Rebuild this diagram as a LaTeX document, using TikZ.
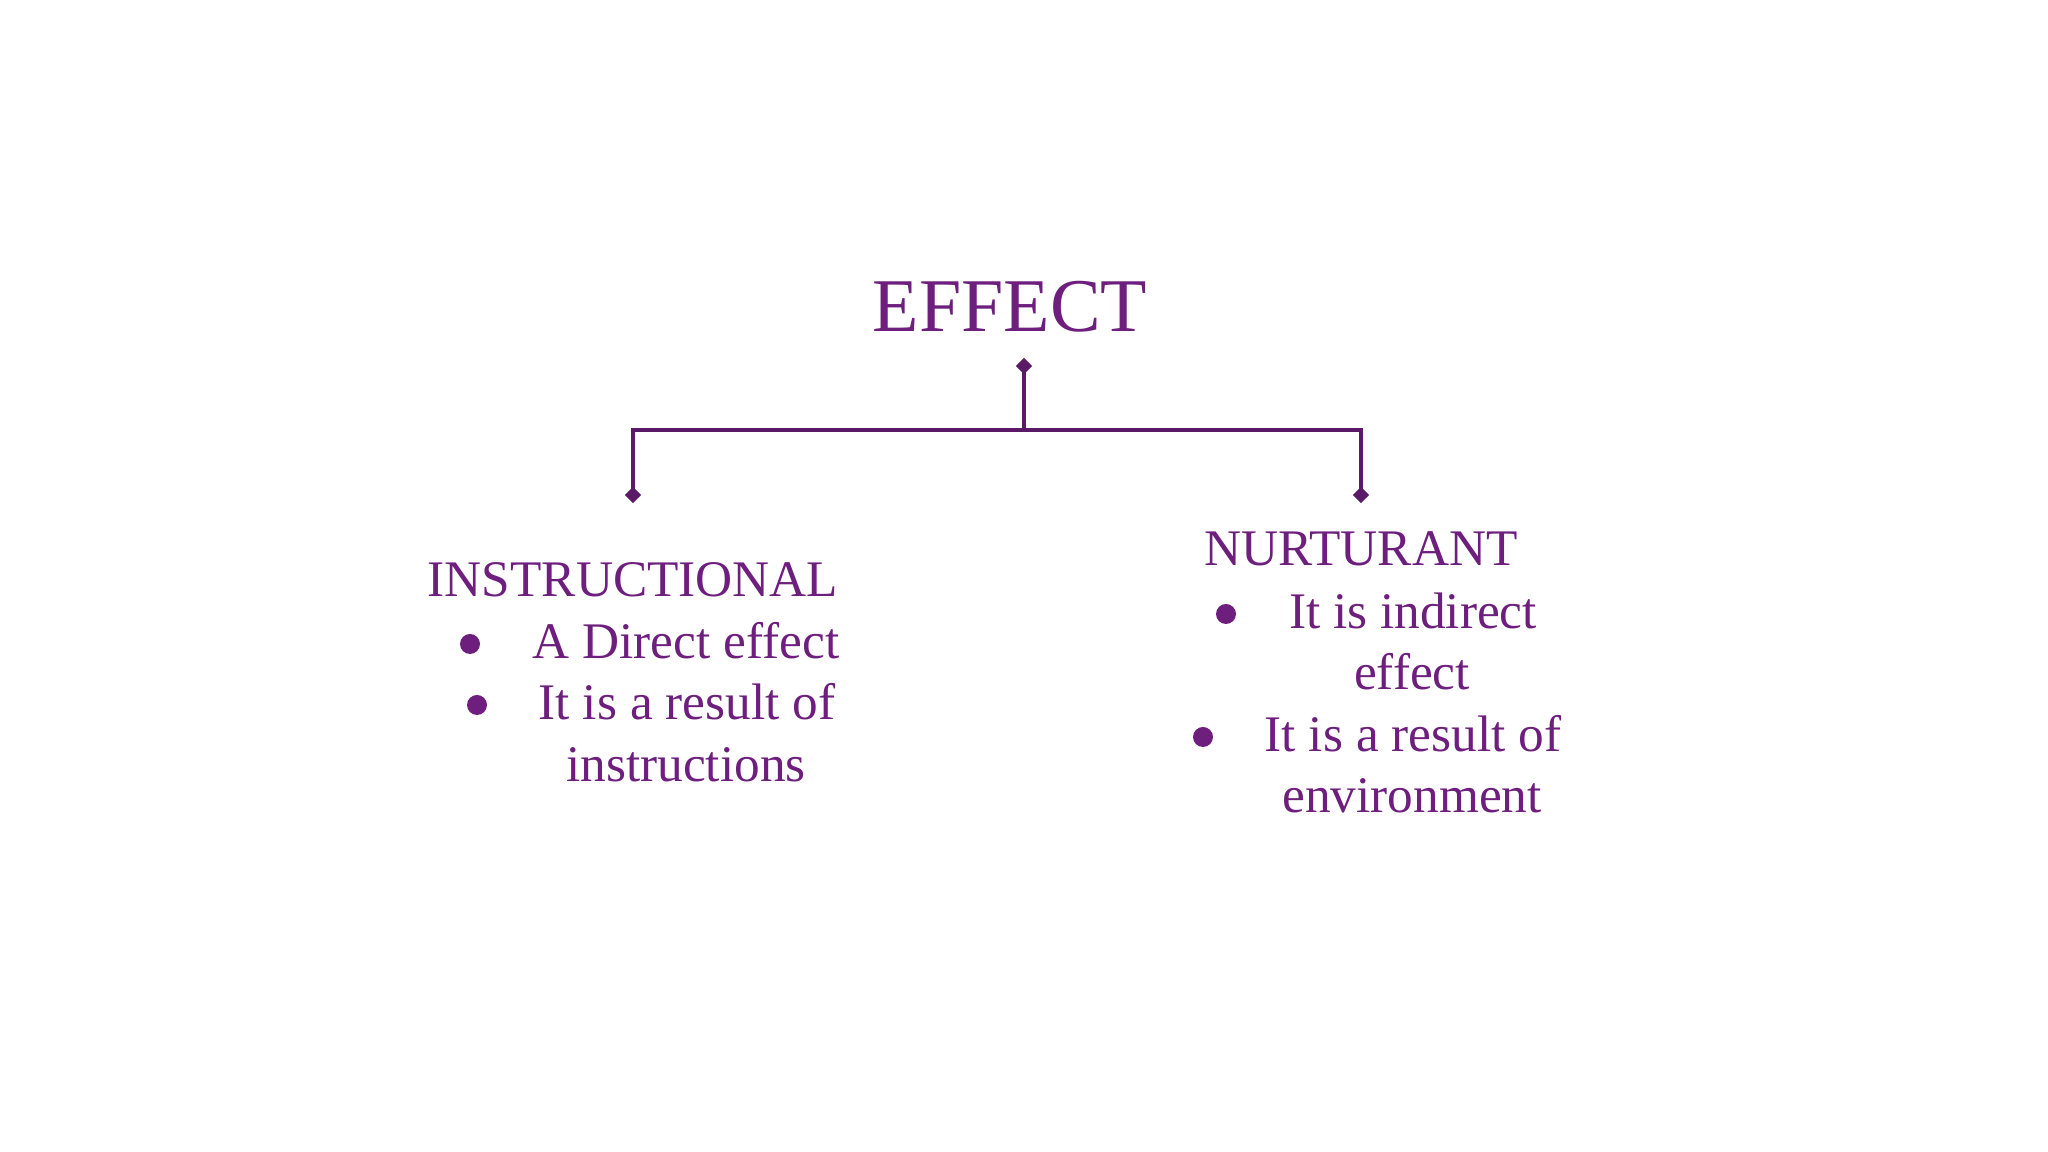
\documentclass[tikz,border=0pt]{standalone}
\usepackage{fontspec}
\usetikzlibrary{shapes.geometric}
\setmainfont{Liberation Serif}
\definecolor{pur}{HTML}{6E1F7E}
\definecolor{lin}{HTML}{5A1A68}
\begin{document}
\begin{tikzpicture}[
  txt/.style={text=pur,font=\fontsize{14.6pt}{16pt}\selectfont,inner sep=0pt,anchor=base},
  dot/.style={circle,fill=pur,inner sep=0pt,minimum size=0.2cm},
  dia/.style={diamond,fill=lin,inner sep=0pt,minimum size=0.17cm},
  conn/.style={draw=lin,line width=1.3pt}]
\useasboundingbox (0,0) rectangle (20.48,11.52);
\node[txt,font=\fontsize{21.6pt}{24pt}\selectfont] (eff) at (10.10,8.20) {EFFECT};
\node[dia] (d0) at (10.24,7.86) {};
\node[dia] (d1) at (6.33,6.57) {};
\node[dia] (d2) at (13.61,6.57) {};
\coordinate (j) at (10.24,7.22);
\draw[conn] (d0.center) -- (j) -| (d1.center);
\draw[conn] (j) -| (d2.center);
\node[txt] (ins) at (6.33,5.55) {INSTRUCTIONAL};
\node[dot] (b1) at (4.70,5.08) {};
\node[txt] (t1) at (6.86,4.93) {A Direct effect};
\node[dot] (b2) at (4.77,4.47) {};
\node[txt] (t2) at (6.87,4.32) {It is a result of};
\node[txt] (t3) at (6.86,3.70) {instructions};
\node[txt] (nur) at (13.61,5.86) {NURTURANT};
\node[dot] (b3) at (12.26,5.38) {};
\node[txt] (n1) at (14.13,5.23) {It is indirect};
\node[txt] (n2) at (14.12,4.62) {effect};
\node[dot] (b4) at (12.03,4.15) {};
\node[txt] (n3) at (14.13,4.00) {It is a result of};
\node[txt] (n4) at (14.12,3.39) {environment};
\end{tikzpicture}
\end{document}
